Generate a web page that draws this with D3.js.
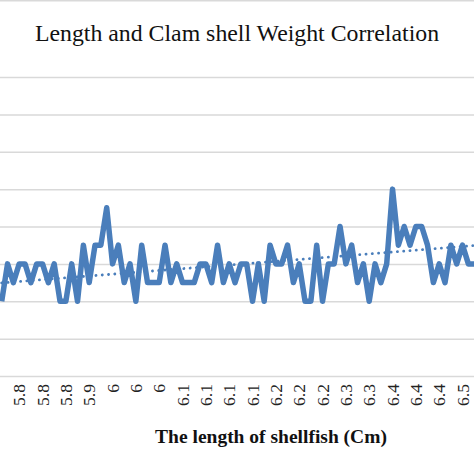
<!DOCTYPE html>
<meta charset="utf-8">
<div id="chart"></div>
<style>
body { margin: 0; background: #fff; }
text { font-family: 'Liberation Serif', 'Times New Roman', serif; }
</style>
<script src="https://d3js.org/d3.v7.min.js"></script>
<script>
// shell weight per sample (visible part of the series)
var weights = [4,6,5,6,6,5,6,6,5,6,4,4,6,4,7,5,7,7,9,6,
  7,5,6,4,7,5,5,5,7,5,6,5,5,5,6,6,5,7,5,6,
  5,6,6,4,6,4,7,6,6,7,5,6,4,4,7,4,6,6,8,6,
  7,5,6,4,6,5,6,10,7,8,7,8,8,7,5,6,5,7,6,7,
  6,6];
// every fourth category carries a label
var lengthLabels = ["5.8","5.8","5.8","5.9","6","6","6","6.1","6.1","6.1",
  "6.1","6.2","6.2","6.2","6.3","6.3","6.4","6.4","6.4","6.5"];
var labelStart = 3, labelStep = 4;
var yTicks = [0,2,4,6,8,10,12,14,16];
// linear trend line end values (first and last visible sample)
var trendEnds = [4.98, 6.98];

var w = 474, h = 474;
var svg = d3.select("#chart").append("svg")
  .attr("width", w).attr("height", h);

var x = d3.scaleLinear().domain([0, weights.length - 1]).range([1.7, 474.2]);
var y = d3.scaleLinear().domain([0, 16]).range([376, 77]);

// frame top
svg.append("line")
  .attr("x1", 0).attr("x2", w).attr("y1", 0.8).attr("y2", 0.8)
  .style("stroke", "#d9d9d9").style("stroke-width", 1.6);

// gridlines
svg.append("g")
  .call(d3.axisLeft(y).tickValues(yTicks).tickSize(-w).tickFormat(""))
  .call(function(g) { g.select(".domain").remove(); })
  .selectAll("line")
  .style("stroke", "#d9d9d9").style("stroke-width", 1.5);

// title
svg.append("text")
  .attr("x", 237).attr("y", 41)
  .attr("text-anchor", "middle")
  .style("font-size", "23.8px")
  .style("fill", "#111")
  .text("Length and Clam shell Weight Correlation");

// trend (dotted)
svg.append("line")
  .attr("x1", x(0)).attr("y1", y(trendEnds[0]))
  .attr("x2", x(weights.length - 1)).attr("y2", y(trendEnds[1]))
  .style("stroke", "#4a7ebb")
  .style("stroke-width", 2.8)
  .style("stroke-linecap", "round")
  .style("stroke-dasharray", "0.1 6.2");

// data line
var line = d3.line()
  .x(function(d, i) { return x(i); })
  .y(function(d) { return y(d); });

svg.append("path")
  .datum(weights)
  .attr("d", line)
  .style("fill", "none")
  .style("stroke", "#4a7ebb")
  .style("stroke-width", 5.5)
  .style("stroke-linejoin", "round");

// x tick labels, rotated
svg.selectAll(".xlab")
  .data(lengthLabels)
  .enter()
  .append("text")
  .attr("class", "xlab")
  .attr("transform", function(d, i) {
    return "translate(" + x(labelStart + i * labelStep) + ",384) rotate(-90)";
  })
  .attr("dy", "0.35em")
  .attr("text-anchor", "end")
  .style("font-size", "17.5px")
  .style("fill", "#222")
  .text(function(d) { return d; });

// x axis title
svg.append("text")
  .attr("x", 271).attr("y", 443)
  .attr("text-anchor", "middle")
  .style("font-size", "19.5px")
  .style("font-weight", "bold")
  .style("fill", "#111")
  .text("The length of shellfish (Cm)");
</script>
